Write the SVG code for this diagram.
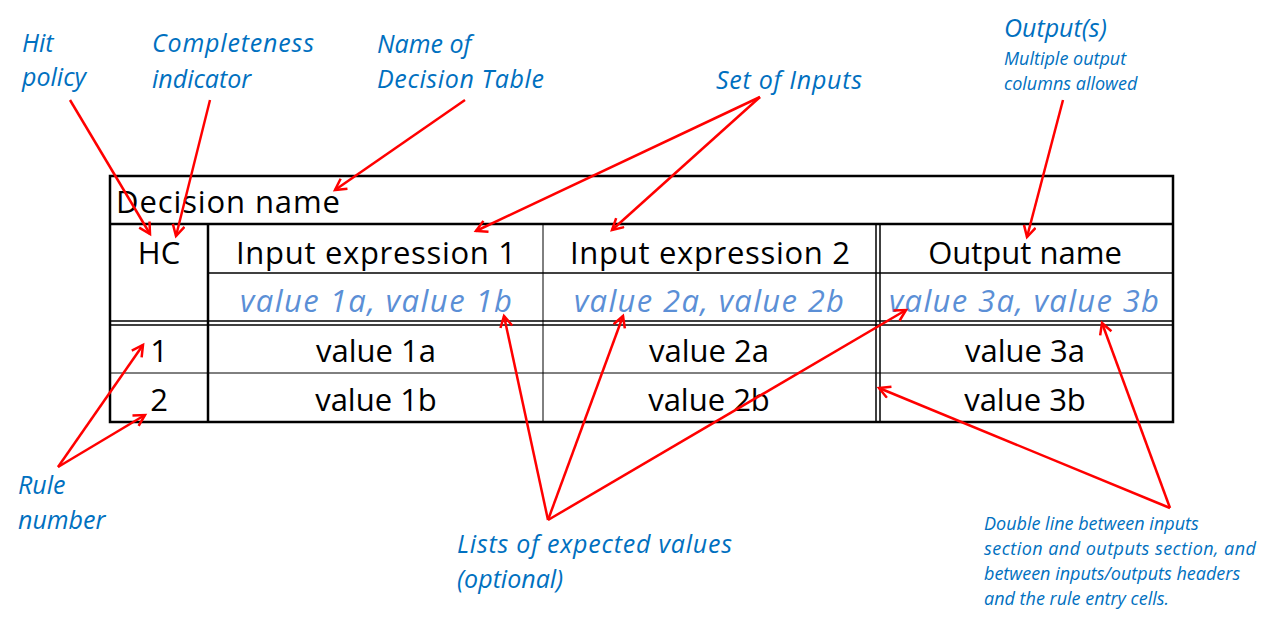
<svg xmlns="http://www.w3.org/2000/svg" width="1275" height="624" viewBox="0 0 1275 624">
<style>
.lab{font-family:"Open Sans","Liberation Sans",sans-serif;font-style:italic;fill:#0070C0;font-size:25px}
.sm{font-size:18px}
.t{font-family:"Open Sans","Liberation Sans",sans-serif;font-size:31px;fill:#000;text-anchor:middle}
.v{font-style:italic;fill:#5B8FD6}
.k{stroke:#000;fill:none}
.a{stroke:#F00;stroke-width:2.5;fill:none;marker-end:url(#h)}
</style>
<defs><marker id="h" markerWidth="16" markerHeight="16" refX="12" refY="7" orient="auto" markerUnits="userSpaceOnUse"><polyline points="1,1 12,7 1,13" fill="none" stroke="#F00" stroke-width="2.5"/></marker></defs>
<rect width="1275" height="624" fill="#fff"/>
<g id="table">
<rect x="110" y="176" width="1063" height="246" class="k" stroke-width="2.5"/>
<line x1="110" y1="224" x2="1173" y2="224" class="k" stroke-width="2.5"/>
<line x1="208" y1="273" x2="1173" y2="273" class="k" stroke-width="1.5"/>
<line x1="110" y1="321" x2="1173" y2="321" class="k" stroke-width="1.5"/>
<line x1="110" y1="325" x2="1173" y2="325" class="k" stroke-width="1.5"/>
<line x1="110" y1="373" x2="1173" y2="373" class="k" stroke-width="1"/>
<line x1="208" y1="224" x2="208" y2="422" class="k" stroke-width="2.5"/>
<line x1="543" y1="224" x2="543" y2="422" class="k" stroke-width="1"/>
<line x1="876" y1="224" x2="876" y2="422" class="k" stroke-width="1.5"/>
<line x1="880" y1="224" x2="880" y2="422" class="k" stroke-width="1.5"/>
<text x="116" y="213" class="t" style="text-anchor:start" textLength="224">Decision name</text>
<text x="159" y="264" class="t">HC</text>
<text x="376" y="264" class="t" textLength="280">Input expression 1</text>
<text x="710" y="264" class="t" textLength="280">Input expression 2</text>
<text x="1025" y="264" class="t">Output name</text>
<text x="376" y="312" class="t v" textLength="272">value 1a, value 1b</text>
<text x="709" y="312" class="t v" textLength="270">value 2a, value 2b</text>
<text x="1024" y="312" class="t v" textLength="270">value 3a, value 3b</text>
<text x="159" y="362" class="t">1</text>
<text x="376" y="362" class="t">value 1a</text>
<text x="709" y="362" class="t">value 2a</text>
<text x="1025" y="362" class="t">value 3a</text>
<text x="159" y="411" class="t">2</text>
<text x="376" y="411" class="t">value 1b</text>
<text x="709" y="411" class="t">value 2b</text>
<text x="1025" y="411" class="t">value 3b</text>
</g>
<g id="labels">
<text class="lab" x="22" y="52">Hit</text><text class="lab" x="22" y="86">policy</text>
<text class="lab" x="152" y="52" textLength="162">Completeness</text><text class="lab" x="152" y="88">indicator</text>
<text class="lab" x="377" y="53">Name of</text><text class="lab" x="377" y="88" textLength="167">Decision Table</text>
<text class="lab" x="716" y="89" textLength="146">Set of Inputs</text>
<text class="lab" x="1004" y="37">Output(s)</text>
<text class="lab sm" x="1004" y="65">Multiple output</text><text class="lab sm" x="1004" y="90">columns allowed</text>
<text class="lab" x="18" y="494">Rule</text><text class="lab" x="18" y="529">number</text>
<text class="lab" x="457" y="553" textLength="275">Lists of expected values</text><text class="lab" x="457" y="588">(optional)</text>
<text class="lab sm" x="984" y="530">Double line between inputs</text>
<text class="lab sm" x="984" y="555" textLength="272">section and outputs section, and</text>
<text class="lab sm" x="984" y="580">between inputs/outputs headers</text>
<text class="lab sm" x="984" y="605">and the rule entry cells.</text>
</g>
<g id="connectors">
<line class="a" x1="70" y1="100" x2="150" y2="234"/>
<line class="a" x1="210" y1="100" x2="176" y2="236"/>
<line class="a" x1="465" y1="100" x2="335" y2="190"/>
<line class="a" x1="760" y1="97" x2="476" y2="231"/>
<line class="a" x1="760" y1="97" x2="612" y2="230"/>
<line class="a" x1="1063" y1="100" x2="1027" y2="237"/>
<line class="a" x1="58" y1="467" x2="143" y2="345"/>
<line class="a" x1="58" y1="467" x2="145" y2="415"/>
<line class="a" x1="548" y1="520" x2="504" y2="316"/>
<line class="a" x1="548" y1="520" x2="623" y2="316"/>
<line class="a" x1="548" y1="520" x2="906" y2="310"/>
<line class="a" x1="1170" y1="508" x2="879" y2="388"/>
<line class="a" x1="1170" y1="508" x2="1102" y2="323"/>
</g>
</svg>
